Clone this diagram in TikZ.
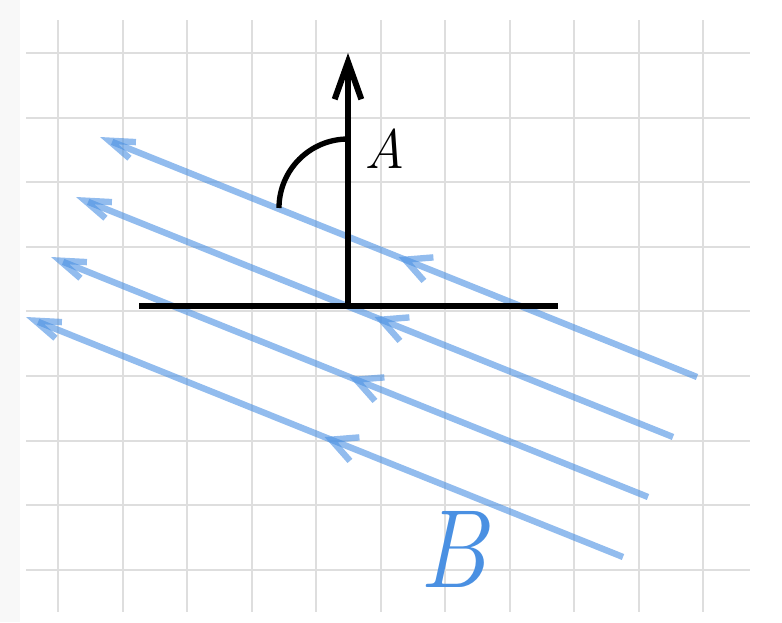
\documentclass[tikz,border=0pt]{standalone}
\usepackage{fontspec}
\usetikzlibrary{arrows.meta,decorations.markings}

\definecolor{raycol}{RGB}{74,144,226}
\definecolor{gridcol}{RGB}{222,222,222}
\definecolor{edgecol}{RGB}{248,248,248}

\tikzset{every picture/.style={line width=0.75pt}}
\tikzset{
  gridline/.style={draw=gridcol, line width=1.5pt},
  ray/.style={draw=raycol, draw opacity=0.6, line width=4.8pt,
    -{Straight Barb[length=19pt,width=13pt]},
    postaction={decorate},
    decoration={markings, mark=at position 0.5 with {\arrow{Straight Barb[length=19pt,width=19pt]}}}},
  plane/.style={draw=black, line width=4.5pt},
}

\begin{document}
\begin{tikzpicture}[x=0.75pt,y=0.75pt,yscale=-1,xscale=1]
%set diagram left start at 0, and has height of 622
\path (0,0) rectangle (782,622);

%Shape: Rectangle [left edge]
\fill [color=edgecol] (0,0) rectangle (20,622);

%Shape: Grid
\draw [gridline] (58,20) -- (58,612) (122.5,20) -- (122.5,612) (187,20) -- (187,612) (251.5,20) -- (251.5,612) (316,20) -- (316,612) (380.5,20) -- (380.5,612) (445,20) -- (445,612) (509.5,20) -- (509.5,612) (574,20) -- (574,612) (638.5,20) -- (638.5,612) (703,20) -- (703,612) ;
\draw [gridline] (26,53) -- (750,53) (26,117.6) -- (750,117.6) (26,182.2) -- (750,182.2) (26,246.8) -- (750,246.8) (26,311.4) -- (750,311.4) (26,376) -- (750,376) (26,440.6) -- (750,440.6) (26,505.2) -- (750,505.2) (26,569.8) -- (750,569.8) ;

% Ray ends
\coordinate (r1a) at (697,377) ; \coordinate (r1b) at (100,137) ;
\coordinate (r2a) at (673,437) ; \coordinate (r2b) at (76,197) ;
\coordinate (r3a) at (648,497) ; \coordinate (r3b) at (51,257) ;
\coordinate (r4a) at (623,557) ; \coordinate (r4b) at (26,317) ;

%Straight Lines [rays]
\draw [ray] (r1a) -- (r1b) ;
\draw [ray] (r2a) -- (r2b) ;
\draw [ray] (r3a) -- (r3b) ;
\draw [ray] (r4a) -- (r4b) ;

% Plane and normal
\coordinate (pL) at (139,306) ;
\coordinate (pR) at (558,306) ;
\coordinate (pO) at (348,306) ;
\coordinate (nTip) at (348,53) ;

%Straight Lines [plane]
\draw [plane] (pL) -- (pR) ;
%Straight Lines [normal]
\draw [plane, -{Straight Barb[length=28pt,width=20pt]}] (pO) -- (nTip) ;

%Curve Lines [angle]
\draw [line width=4pt] (348,139) .. controls (310,139) and (279,170) .. (279,208) ;

% Text Node
\draw (385,168) node [anchor=base][inner sep=0.75pt] (lblA) {\fontsize{41.7}{50}\selectfont\itshape A};
% Text Node
\draw (453,587) node [anchor=base][inner sep=0.75pt] (lblB) {\fontsize{83.5}{96}\selectfont\itshape\color{raycol}\scalebox{0.88}[1]{B}};

\end{tikzpicture}
\end{document}
